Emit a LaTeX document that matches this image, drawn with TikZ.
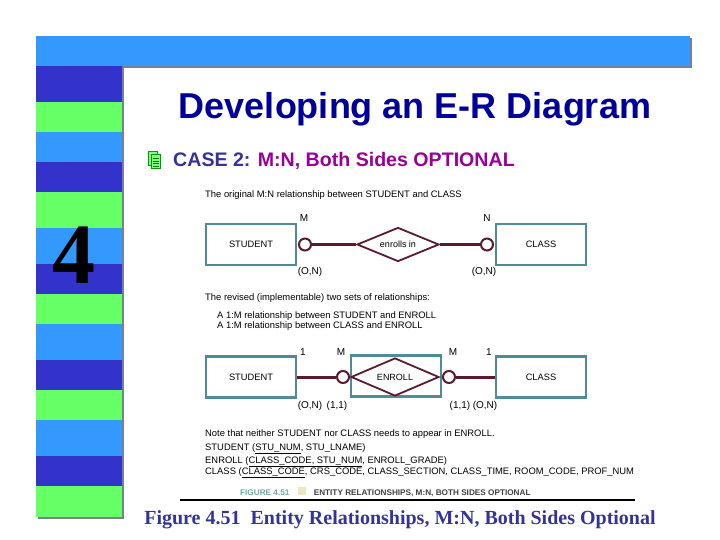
\documentclass[tikz,border=0pt]{standalone}
\usepackage{fontspec}
\setmainfont{Liberation Serif}
\setsansfont{Liberation Sans}
\usetikzlibrary{shapes.geometric,positioning}
\definecolor{barblue}{HTML}{3399FF}
\definecolor{bardark}{HTML}{3333CC}
\definecolor{bargreen}{HTML}{66FF66}
\definecolor{barshade}{HTML}{7A8090}
\definecolor{titleblue}{HTML}{000099}
\definecolor{caseblue}{HTML}{333399}
\definecolor{casemag}{HTML}{990099}
\definecolor{boxteal}{HTML}{4F8C98}
\definecolor{linkred}{HTML}{5A1A30}
\definecolor{figteal}{HTML}{6FA8A8}
\definecolor{figbeige}{HTML}{EDE6C6}
\begin{document}
\begin{tikzpicture}[x=1pt, y=-1pt]
    \tikzset{
      entity/.style={draw=boxteal, line width=2.4pt, minimum width=90pt,
        minimum height=41pt, inner sep=0pt, font=\sffamily\fontsize{9.3}{10}\selectfont},
      relship/.style={diamond, draw=linkred, line width=1.8pt, aspect=2.4,
        inner sep=0pt, font=\sffamily\fontsize{9}{10}\selectfont},
      optional/.style={circle, draw=linkred, line width=2pt, fill=white,
        minimum size=12pt, inner sep=0pt},
      link/.style={draw=linkred, line width=3pt},
      card/.style={inner sep=0pt, font=\sffamily\fontsize{10}{11}\selectfont},
      note/.style={anchor=base west, inner sep=0pt, font=\sffamily\fontsize{9.4}{10}\selectfont},
    }
    \useasboundingbox (0,0) rectangle (720,540);

    \fill[barshade] (38,38) rectangle (692,68);
    \fill[barblue] (36,36) rectangle (690,66);
    \fill[barshade] (38,68) rectangle (124,519);
    \foreach \ya/\yb/\col in {66/102/bardark, 102/132/bargreen, 132/162/barblue,%
      162/192/bardark, 192/228/bargreen, 228/264/barblue,%
      264/294/bardark, 294/324/bargreen, 324/360/barblue,%
      360/390/bardark, 390/420/bargreen, 420/456/barblue,%
      456/486/bardark, 486/517/bargreen}
      { \fill[\col] (36,\ya) rectangle (122,\yb); }
    \node[font=\bfseries\fontsize{86}{86}\selectfont] (chap) at (74,255) {4};

    \node[font=\sffamily\bfseries\fontsize{36}{38}\selectfont, text=titleblue]
      (title) at (415,109) {Developing an E-R Diagram};

    \foreach \d in {0,3} {
      \draw[green!60!black, fill=bargreen!80, line width=0.5pt]
        (148+\d,151+\d) rectangle +(9,14);
    }
    \foreach \k in {1,...,4} { \draw[green!50!black, line width=0.5pt] (152.5,156+2.5*\k) -- +(6,0); }
    \node[anchor=base west, inner sep=0pt, font=\sffamily\bfseries\fontsize{19.6}{21}\selectfont]
      (case) at (173,167) {\color{caseblue}CASE 2: \color{casemag}M:N, Both Sides OPTIONAL};

    \node[note] (orig) at (205,198) {The original M:N relationship between STUDENT and CLASS};
    \node[entity] (stuA) at (251,244.5) {STUDENT};
    \node[entity] (clsA) at (541,244.5) {CLASS};
    \node[relship, minimum width=82pt, minimum height=34pt] (enrA) at (398,244.5) {enrolls in};
    \node[optional] (optA) at (305,244.5) {};
    \node[optional] (optB) at (487,244.5) {};
    \draw[link] (optA) -- (enrA) -- (optB);
    \node[card] (mA) at (304,218) {M};
    \node[card] (nA) at (487,218) {N};
    \node[card] (onA) at (310,272) {(O,N)};
    \node[card] (onB) at (484,272) {(O,N)};

    \node[note] (rev) at (205,300) {The revised (implementable) two sets of relationships:};
    \node[note] (revA) at (217,318) {A 1:M relationship between STUDENT and ENROLL};
    \node[note] (revB) at (217,328) {A 1:M relationship between CLASS and ENROLL};

    \node[entity] (stuB) at (251,377) {STUDENT};
    \node[entity] (enrB) at (396,376) {};
    \node[relship, minimum width=88pt, minimum height=38pt] (enrD) at (395,377) {ENROLL};
    \node[entity] (clsB) at (541,377) {CLASS};
    \node[optional] (optC) at (343,377) {};
    \node[optional] (optD) at (449,377) {};
    \draw[link] (stuB) -- (optC);
    \draw[link] (optD) -- (clsB);
    \foreach \x/\y/\txt in {303/352/1, 341/352/M, 453/352/M, 489/352/1,%
      310/406/{(O,N)}, 337/406/{(1,1)}, 460/406/{(1,1)}, 485/406/{(O,N)}}
      { \node[card] at (\x,\y) {\txt}; }

    \node[note] (neither) at (205,436) {Note that neither STUDENT nor CLASS needs to appear in ENROLL.};
    \node[note] (relStu) at (205,450) {STUDENT (\underline{STU\_NUM}, STU\_LNAME)};
    \node[note] (relEnr) at (205,463) {ENROLL (\underline{CLASS\_CODE, STU\_NUM}, ENROLL\_GRADE)};
    \node[note] (relCls) at (205,474) {CLASS (\underline{CLASS\_CODE}, CRS\_CODE, CLASS\_SECTION, CLASS\_TIME, ROOM\_CODE, PROF\_NUM};

    \node[anchor=base west, inner sep=0pt, font=\sffamily\bfseries\fontsize{8.2}{9}\selectfont]
      (figcap) at (240,495) {\color{figteal}FIGURE 4.51\quad\textcolor{figbeige}{\rule{8pt}{8pt}}\quad\color{black!75}ENTITY RELATIONSHIPS, M:N, BOTH SIDES OPTIONAL};
    \draw[line width=1.6pt] (180,500) -- (635,500);

    \node[font=\bfseries\fontsize{20}{22}\selectfont, text=caseblue] (caption) at (400,520)
      {Figure 4.51\ \ Entity Relationships, M:N, Both Sides Optional};
  \end{tikzpicture}
\end{document}
